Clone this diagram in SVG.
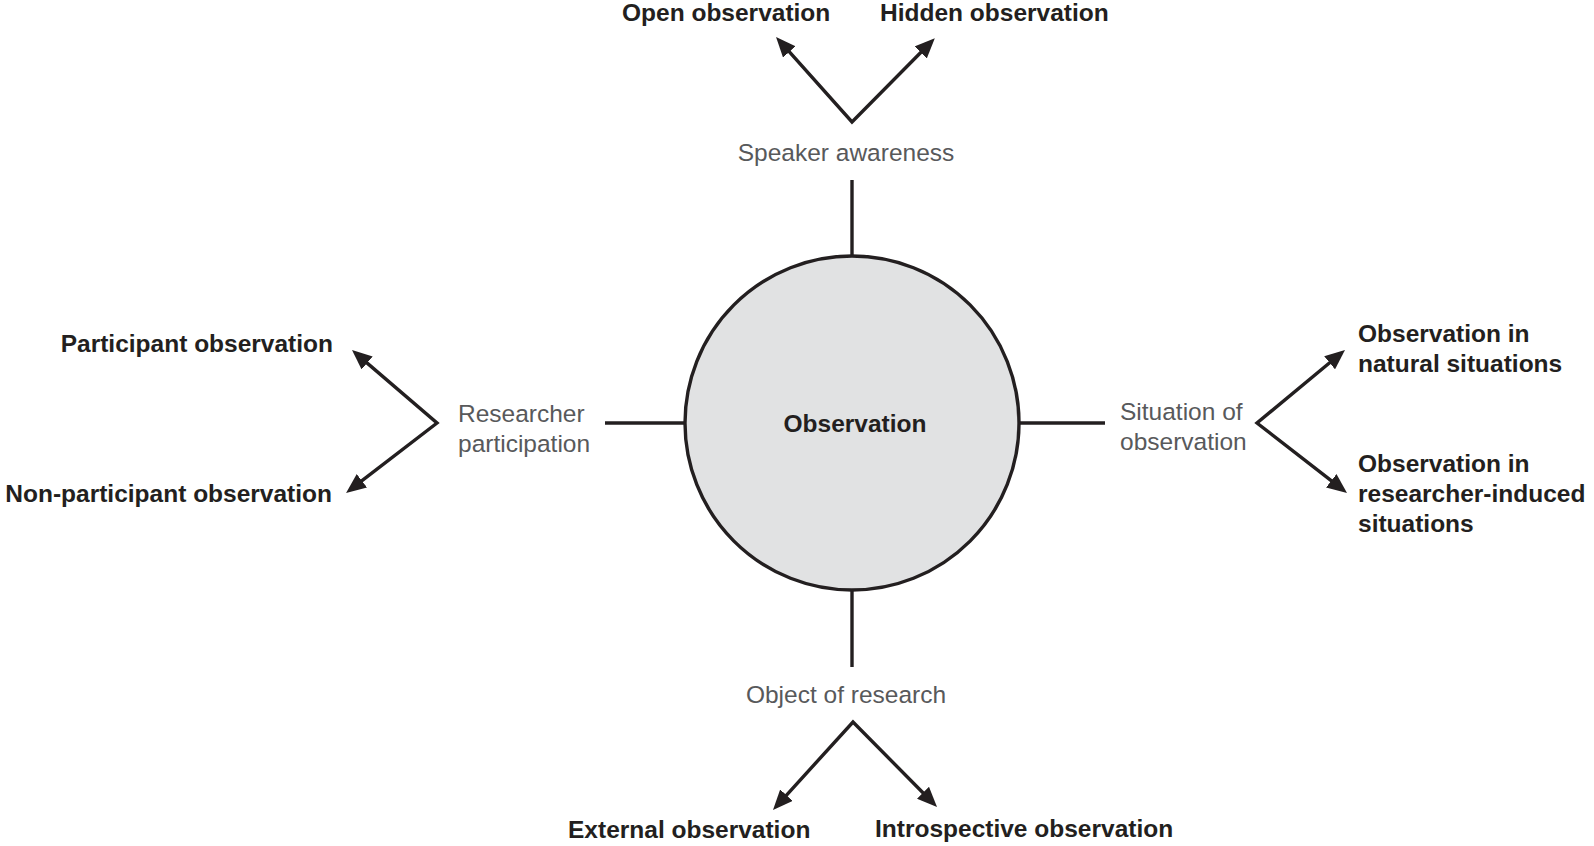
<svg xmlns="http://www.w3.org/2000/svg" width="1594" height="846" viewBox="0 0 1594 846">
<style>
.bold{font-family:"Liberation Sans",Arial,sans-serif;font-weight:bold;font-size:24.5px;fill:#231f20}
.gray{font-family:"Liberation Sans",Arial,sans-serif;font-size:24.5px;fill:#58595b}
.ln{stroke:#231f20;stroke-width:3.4;fill:none}
.arr{stroke:#231f20;stroke-width:3.4;fill:none;stroke-linejoin:miter;stroke-miterlimit:10;marker-start:url(#ah);marker-end:url(#ah)}
</style>
<defs>
<marker id="ah" viewBox="0 0 20 17" refX="13" refY="8.5" markerWidth="20" markerHeight="17" markerUnits="userSpaceOnUse" orient="auto-start-reverse">
<path d="M0,0 L20,8.5 L0,17 z" fill="#231f20"/>
</marker>
</defs>
<rect width="1594" height="846" fill="#ffffff"/>
<g id="connectors">
<line class="ln" x1="852" y1="180" x2="852" y2="258"/>
<line class="ln" x1="852" y1="589" x2="852" y2="667"/>
<line class="ln" x1="605" y1="423" x2="685" y2="423"/>
<line class="ln" x1="1019" y1="423" x2="1105" y2="423"/>
<path class="arr" d="M780.7,42.2 L852,122 L929.9,43.2"/>
<path class="arr" d="M357.3,354.6 L437,423 L351.6,488.7"/>
<path class="arr" d="M1339.6,354.5 L1257,423 L1341.5,488.7"/>
<path class="arr" d="M777.7,804.8 L853,722 L932.1,802"/>
</g>
<g id="center">
<circle cx="852" cy="423" r="167" fill="#e1e2e3" stroke="#231f20" stroke-width="3.4"/>
<text class="bold" x="855" y="432" text-anchor="middle">Observation</text>
</g>
<g id="speaker-awareness">
<text class="gray" x="846" y="161" text-anchor="middle">Speaker awareness</text>
</g>
<g id="open-observation">
<text class="bold" x="622" y="21">Open observation</text>
</g>
<g id="hidden-observation">
<text class="bold" x="880" y="21">Hidden observation</text>
</g>
<g id="researcher-participation">
<text class="gray" x="458" y="422">Researcher</text>
<text class="gray" x="458" y="452">participation</text>
</g>
<g id="participant-observation">
<text class="bold" x="333" y="352" text-anchor="end">Participant observation</text>
</g>
<g id="non-participant-observation">
<text class="bold" x="332" y="502" text-anchor="end">Non-participant observation</text>
</g>
<g id="situation-of-observation">
<text class="gray" x="1120" y="420">Situation of</text>
<text class="gray" x="1120" y="450">observation</text>
</g>
<g id="natural-situations">
<text class="bold" x="1358" y="342">Observation in</text>
<text class="bold" x="1358" y="372">natural situations</text>
</g>
<g id="researcher-induced-situations">
<text class="bold" x="1358" y="472">Observation in</text>
<text class="bold" x="1358" y="502">researcher-induced</text>
<text class="bold" x="1358" y="532">situations</text>
</g>
<g id="object-of-research">
<text class="gray" x="846" y="703" text-anchor="middle">Object of research</text>
</g>
<g id="external-observation">
<text class="bold" x="568" y="838">External observation</text>
</g>
<g id="introspective-observation">
<text class="bold" x="875" y="837">Introspective observation</text>
</g>
</svg>
